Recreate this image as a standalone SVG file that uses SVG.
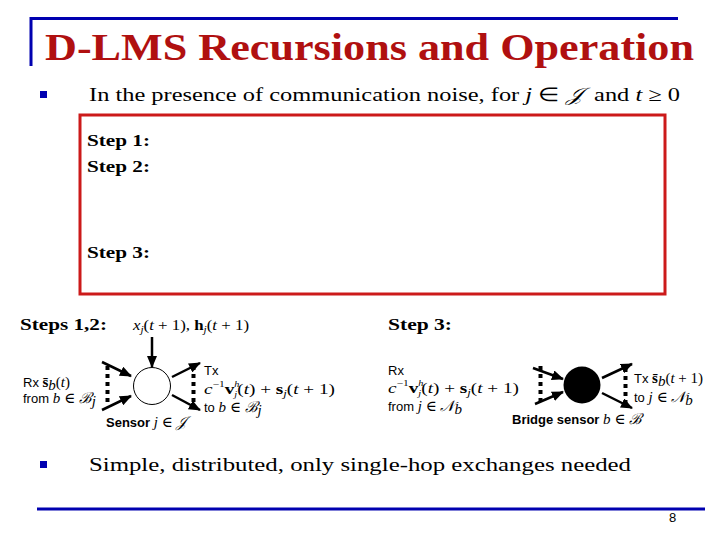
<svg xmlns="http://www.w3.org/2000/svg" width="720" height="540" viewBox="0 0 720 540">
<style>
.title{font-family:"Liberation Serif",serif;font-size:38px;font-weight:bold;fill:#B01010;}
.body{font-family:"Liberation Serif",serif;font-size:19px;fill:#000;}
.step{font-family:"Liberation Serif",serif;font-size:17px;font-weight:bold;fill:#000;}
.sans{font-family:"Liberation Sans",sans-serif;font-size:13px;fill:#000;}
.sansb{font-family:"Liberation Sans",sans-serif;font-size:13px;font-weight:bold;fill:#000;}
.math{font-family:"Liberation Serif","DejaVu Serif",serif;font-size:15px;fill:#000;}
.mi{font-style:italic;}
.bul{fill:#0000B0;}
.rule{stroke:#0000B0;stroke-width:3;fill:none;}
.arr{stroke:#000;stroke-width:2.5;fill:none;marker-end:url(#ah);}
.dots{stroke:#000;stroke-width:4;stroke-dasharray:4 4;fill:none;}
</style>
<defs>
<marker id="ah" markerUnits="userSpaceOnUse" markerWidth="12" markerHeight="10" refX="11" refY="5" orient="auto">
<path d="M0,0 L12,5 L0,10 Z" fill="#000"/>
</marker>
</defs>
<rect width="720" height="540" fill="#fff"/>

<g id="title">
<path class="rule" d="M31,66 V18.5 H678"/>
<text class="title" x="45" y="60" textLength="649" lengthAdjust="spacingAndGlyphs">D-LMS Recursions and Operation</text>
</g>

<g id="bullet1">
<rect class="bul" x="40" y="91" width="7" height="7"/>
<text class="body" x="89" y="101" textLength="591" lengthAdjust="spacingAndGlyphs">In the presence of communication noise, for <tspan class="mi">j</tspan> ∈ <tspan class="mi">𝒥</tspan> <tspan dx="4">and</tspan> <tspan class="mi">t</tspan> ≥ 0</text>
</g>

<g id="box">
<rect x="80" y="115" width="585" height="179" fill="none" stroke="#CC1A1A" stroke-width="3"/>
<text class="step" x="87" y="146" textLength="63" lengthAdjust="spacingAndGlyphs">Step 1:</text>
<text class="step" x="87" y="172" textLength="63" lengthAdjust="spacingAndGlyphs">Step 2:</text>
<text class="step" x="87" y="258" textLength="63" lengthAdjust="spacingAndGlyphs">Step 3:</text>
</g>

<g id="labels">
<text class="step" x="20" y="330" textLength="87" lengthAdjust="spacingAndGlyphs">Steps 1,2:</text>
<text class="step" x="388" y="330" textLength="64" lengthAdjust="spacingAndGlyphs">Step 3:</text>
</g>

<g id="sensor">
<circle cx="152" cy="386" r="18.5" fill="#fff" stroke="#000" stroke-width="1"/>
<text class="math" x="133" y="330" textLength="116" lengthAdjust="spacingAndGlyphs"><tspan class="mi">x</tspan><tspan class="mi" font-size="10" dy="3">j</tspan><tspan dy="-3">(</tspan><tspan class="mi">t</tspan> + 1), <tspan font-weight="bold">h</tspan><tspan class="mi" font-size="10" dy="3">j</tspan><tspan dy="-3">(</tspan><tspan class="mi">t</tspan> + 1)</text>
<text class="sansb" x="106" y="427">Sensor <tspan class="math mi" font-weight="normal">j</tspan><tspan class="math" font-weight="normal"> ∈ </tspan><tspan class="math mi" font-weight="normal">𝒥</tspan></text>
<text class="sans" x="23" y="387">Rx <tspan class="math" font-weight="bold">s̄</tspan><tspan class="math mi" font-size="10" dy="3">b</tspan><tspan class="math" dy="-3">(</tspan><tspan class="math mi">t</tspan><tspan class="math">)</tspan></text>
<text class="sans" x="23" y="403">from <tspan class="math mi">b</tspan><tspan class="math"> ∈ </tspan><tspan class="math mi">ℬ</tspan><tspan class="math mi" font-size="10" dy="3">j</tspan></text>
<text class="sans" x="204" y="375">Tx</text>
<text class="math" x="204" y="394" textLength="131" lengthAdjust="spacingAndGlyphs"><tspan class="mi">c</tspan><tspan font-size="9" dy="-7">−1</tspan><tspan font-weight="bold" dy="7">v</tspan><tspan class="mi" font-size="8" dy="-7">h</tspan><tspan class="mi" font-size="8" dx="-4" dy="10">j</tspan><tspan dy="-3">(</tspan><tspan class="mi">t</tspan>) + <tspan font-weight="bold">s</tspan><tspan class="mi" font-size="10" dy="3">j</tspan><tspan dy="-3">(</tspan><tspan class="mi">t</tspan> + 1)</text>
<text class="sans" x="204" y="412">to <tspan class="math mi">b</tspan><tspan class="math"> ∈ </tspan><tspan class="math mi">ℬ</tspan><tspan class="math mi" font-size="10" dy="3">j</tspan></text>
</g>

<g id="bridge">
<circle cx="582" cy="385" r="18.5" fill="#000"/>
<text class="sans" x="388" y="375">Rx</text>
<text class="math" x="388" y="393" textLength="131" lengthAdjust="spacingAndGlyphs"><tspan class="mi">c</tspan><tspan font-size="9" dy="-7">−1</tspan><tspan font-weight="bold" dy="7">v</tspan><tspan class="mi" font-size="8" dy="-7">h</tspan><tspan class="mi" font-size="8" dx="-4" dy="10">j</tspan><tspan dy="-3">(</tspan><tspan class="mi">t</tspan>) + <tspan font-weight="bold">s</tspan><tspan class="mi" font-size="10" dy="3">j</tspan><tspan dy="-3">(</tspan><tspan class="mi">t</tspan> + 1)</text>
<text class="sans" x="388" y="411">from <tspan class="math mi">j</tspan><tspan class="math"> ∈ </tspan><tspan class="math mi">𝒩</tspan><tspan class="math mi" font-size="10" dy="3">b</tspan></text>
<text class="sans" x="634" y="383">Tx <tspan class="math" font-weight="bold">s̄</tspan><tspan class="math mi" font-size="10" dy="3">b</tspan><tspan class="math" dy="-3">(</tspan><tspan class="math mi">t</tspan><tspan class="math"> + 1)</tspan></text>
<text class="sans" x="634" y="402">to <tspan class="math mi">j</tspan><tspan class="math"> ∈ </tspan><tspan class="math mi">𝒩</tspan><tspan class="math mi" font-size="10" dy="3">b</tspan></text>
<text class="sansb" x="512" y="424">Bridge sensor <tspan class="math mi" font-weight="normal">b</tspan><tspan class="math" font-weight="normal"> ∈ </tspan><tspan class="math mi" font-weight="normal">ℬ</tspan></text>
</g>

<g id="connectors">
<line class="arr" x1="152" y1="337" x2="152" y2="367"/>
<line class="arr" x1="102" y1="362" x2="131" y2="376"/>
<line class="arr" x1="102" y1="410" x2="131" y2="396"/>
<line class="dots" x1="107.5" y1="366" x2="107.5" y2="406"/>
<line class="arr" x1="172" y1="377" x2="200" y2="363"/>
<line class="arr" x1="172" y1="395" x2="200" y2="410"/>
<line class="dots" x1="193.5" y1="366" x2="193.5" y2="406"/>
<line class="arr" x1="533" y1="368" x2="563" y2="379"/>
<line class="arr" x1="535" y1="404" x2="563" y2="392"/>
<line class="dots" x1="540.5" y1="366" x2="540.5" y2="402"/>
<line class="arr" x1="602" y1="378" x2="632" y2="364"/>
<line class="arr" x1="602" y1="393" x2="632" y2="408"/>
<line class="dots" x1="625.5" y1="368" x2="625.5" y2="404"/>
</g>

<g id="bullet2">
<rect class="bul" x="40" y="461" width="7" height="7"/>
<text class="body" x="89" y="471" textLength="542" lengthAdjust="spacingAndGlyphs">Simple, distributed, only single-hop exchanges needed</text>
</g>

<g id="footer">
<line class="rule" x1="37" y1="509" x2="705" y2="509"/>
<text class="sans" x="669" y="522" font-size="10">8</text>
</g>
</svg>
